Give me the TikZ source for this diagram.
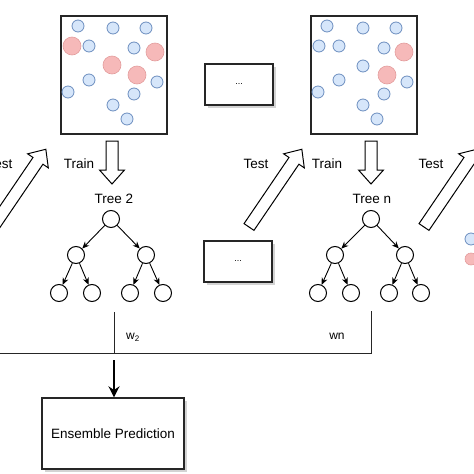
\documentclass[tikz,border=0pt]{standalone}
\usepackage{fontspec}
\setmainfont{Liberation Sans}
\usetikzlibrary{arrows.meta,shadows}

\definecolor{ptblue}{HTML}{D6E6FA}
\definecolor{ptblueline}{HTML}{6C8EBF}
\definecolor{ptred}{HTML}{F6B9B9}
\definecolor{ptredline}{HTML}{E39C9C}

\tikzset{
	databox/.style={draw=black!85, line width=1.2pt, minimum width=106pt, minimum height=118pt, inner sep=0pt},
	dotsbox/.style={draw=black!85, fill=white, line width=1.2pt, minimum width=68pt, minimum height=41pt, inner sep=0pt, font=\fontsize{9}{10}\selectfont,
		drop shadow={shadow xshift=3pt, shadow yshift=-3pt, opacity=0.35}},
	bluept/.style={draw=ptblueline, fill=ptblue, line width=0.8pt},
	redpt/.style={draw=ptredline, fill=ptred, line width=0.6pt},
	tnode/.style={circle, draw, line width=1pt, minimum size=17pt, inner sep=0pt},
	edge/.style={line width=0.9pt, -{Stealth[length=7pt,width=6pt]}},
	lbl/.style={font=\fontsize{13.5}{16}\selectfont, inner sep=0pt},
	pics/fatarrow/.style={code={
		\draw[line width=1pt, fill=white] (0,-6) -- (#1-14,-6) -- (#1-14,-12.5) -- (#1,0)
			-- (#1-14,12.5) -- (#1-14,6) -- (0,6) -- cycle;}}
}

\begin{document}
\begin{tikzpicture}[x=1pt, y=-1pt]
	\useasboundingbox (0,0) rectangle (474,474);
	\clip (0,0) rectangle (474,474);

	% sampled data sets
	\node[databox] (data2) at (114,75) {};
	\node[databox] (datan) at (364,75) {};
	\foreach \p in {(78,26),(113,28),(146,28),(89,46),(134,48),(89,80),(68,92),(157,82),(134,94),(113,105),(127,119)}
		\draw[bluept] \p circle (6);
	\foreach \p in {(72,46),(155,52),(112,65),(137,75)}
		\draw[redpt] \p circle (9);
	\foreach \p in {(327,26),(363,28),(396,28),(319,46),(339,46),(384,48),(363,66),(339,80),(318,92),(407,82),(384,94),(363,105),(377,119)}
		\draw[bluept] \p circle (6);
	\foreach \p in {(404,52),(387,75)}
		\draw[redpt] \p circle (9);

	% legend (cut off at the right)
	\draw[bluept] (471,239) circle (6);
	\draw[redpt] (471,259) circle (6);

	% placeholder boxes
	\node[dotsbox] (dotsup) at (239,84.5) {...};
	\node[dotsbox] (dotsdown) at (238,261.5) {...};

	% train / test arrows
	\pic[rotate=-90] at (112,141) {fatarrow=43};
	\pic[rotate=-90] at (371,141) {fatarrow=43};
	\pic[rotate=55.8] at (-7,227) {fatarrow=94};
	\pic[rotate=55.8] at (249,227) {fatarrow=94};
	\pic[rotate=55.8] at (424,227) {fatarrow=94};
	\node[lbl] (train2) at (79,164) {Train};
	\node[lbl] (trainn) at (327,164) {Train};
	\node[lbl] (test1) at (0,164) {Test};
	\node[lbl] (test2) at (256,164) {Test};
	\node[lbl] (test3) at (431,164) {Test};

	% tree 2
	\node[lbl] (t2) at (114,199) {Tree 2};
	\node[tnode] (r2) at (111,219) {};
	\node[tnode] (a2) at (76,255) {};
	\node[tnode] (b2) at (146,255) {};
	\node[tnode] (a2l) at (59,293) {};
	\node[tnode] (a2r) at (92,293) {};
	\node[tnode] (b2l) at (130,293) {};
	\node[tnode] (b2r) at (163,293) {};
	\draw[edge] (r2) -- (a2);
	\draw[edge] (r2) -- (b2);
	\draw[edge] (a2) -- (a2l);
	\draw[edge] (a2) -- (a2r);
	\draw[edge] (b2) -- (b2l);
	\draw[edge] (b2) -- (b2r);

	% tree n
	\node[lbl] (tn) at (372,199) {Tree n};
	\node[tnode] (rn) at (371,219) {};
	\node[tnode] (an) at (335,255) {};
	\node[tnode] (bn) at (405,255) {};
	\node[tnode] (anl) at (318,293) {};
	\node[tnode] (anr) at (351,293) {};
	\node[tnode] (bnl) at (389,293) {};
	\node[tnode] (bnr) at (421,293) {};
	\draw[edge] (rn) -- (an);
	\draw[edge] (rn) -- (bn);
	\draw[edge] (an) -- (anl);
	\draw[edge] (an) -- (anr);
	\draw[edge] (bn) -- (bnl);
	\draw[edge] (bn) -- (bnr);

	% weights
	\coordinate (w2top) at (114,312);
	\coordinate (w2bot) at (114,353);
	\coordinate (wntop) at (371,311);
	\coordinate (wnbot) at (371,353);
	\coordinate (wleft) at (0,353);
	\draw[line width=1pt, black!85] (w2top) -- (w2bot);
	\draw[line width=1pt, black!85] (wntop) -- (wnbot) -- (wleft);
	\node[lbl, font=\fontsize{12}{14}\selectfont] (w2) at (133,337) {w\textsubscript{2}};
	\node[lbl, font=\fontsize{12}{14}\selectfont] (wn) at (337,336) {wn};

	% ensemble
	\node[draw=black!85, fill=white, line width=1.2pt, minimum width=142pt, minimum height=71pt, lbl,
		drop shadow={shadow xshift=3pt, shadow yshift=-3pt, opacity=0.35}] (ens) at (113,433.5) {Ensemble Prediction};
	\coordinate (sum) at (114,360);
	\draw[line width=2pt, -{Stealth[length=11pt,width=11pt]}] (sum) -- (ens.north -| sum);
\end{tikzpicture}
\end{document}
